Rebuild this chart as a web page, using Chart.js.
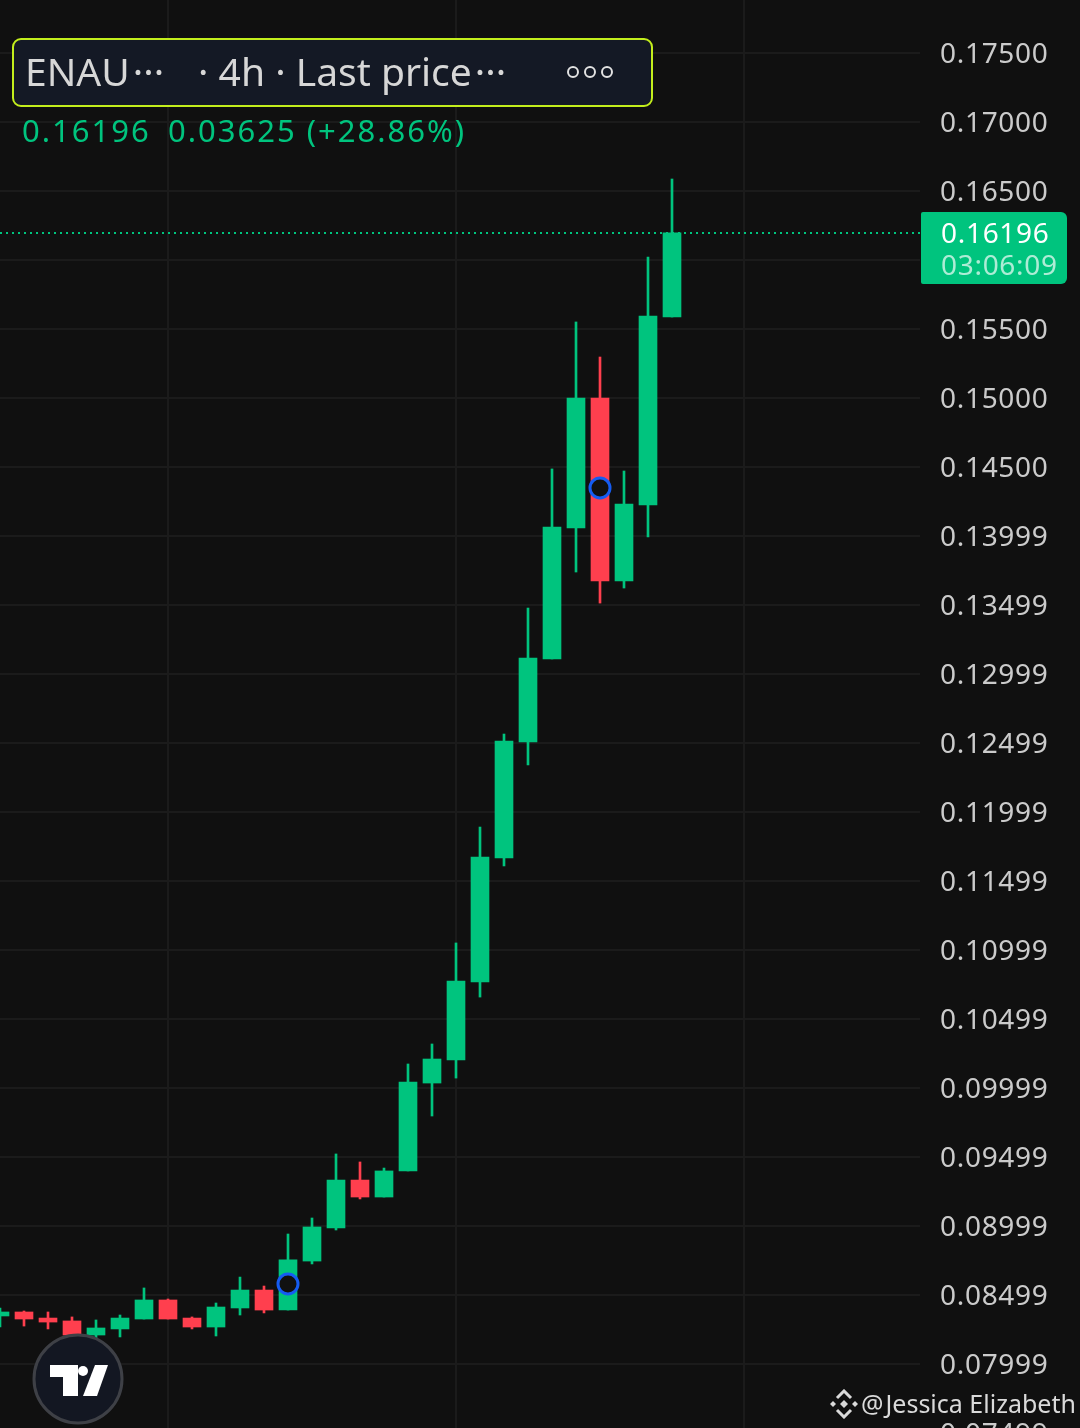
<!DOCTYPE html>
<html lang="en">
<head>
  <meta charset="UTF-8" />
  <title>ENAU - 4h - Last price</title>
  <script src="https://cdn.jsdelivr.net/npm/chart.js"></script>
  <style>
    html, body {
      margin: 0;
      padding: 0;
      width: 1080px;
      height: 1428px;
      overflow: hidden;
      background: #101010;
      font-family: "Noto Sans", sans-serif;
    }
    #grafico {
      position: absolute;
      left: 0;
      top: 0;
    }
    .capa {
      position: absolute;
      z-index: 2;
      white-space: nowrap;
    }
    .cabecera {
      left: 12px;
      top: 38px;
      width: 641px;
      height: 69px;
      box-sizing: border-box;
      border: 2px solid #c3ee1c;
      border-radius: 9px;
      background: #141925;
    }
    .titulo {
      top: 36px;
      height: 69px;
      line-height: 69px;
      font-size: 39px;
      color: #d7d7d7;
    }
    .puntos {
      letter-spacing: 0px;
      margin-left: 3px;
    }
    .anillo {
      top: 66px;
      width: 8px;
      height: 8px;
      border: 2.5px solid #e2e2e2;
      border-radius: 50%;
    }
    .cambio {
      top: 108px;
      height: 44px;
      line-height: 44px;
      font-size: 31px;
      letter-spacing: 2px;
      color: #00c47e;
    }
    .firma {
      left: 861px;
      top: 1386px;
      height: 34px;
      line-height: 34px;
      font-size: 25px;
      color: #dadada;
    }
  </style>
</head>
<body>
  <canvas id="grafico" width="1080" height="1480"></canvas>

  <div class="capa cabecera"></div>
  <div class="capa titulo" style="left:25px">ENAU<span class="puntos">···</span></div>
  <div class="capa titulo" style="left:198px">· 4h · Last price<span class="puntos">···</span></div>
  <div class="capa anillo" style="left:567px"></div>
  <div class="capa anillo" style="left:584px"></div>
  <div class="capa anillo" style="left:601px"></div>

  <div class="capa cambio" style="left:22px">0.16196</div>
  <div class="capa cambio" style="left:168px">0.03625 (+28.86%)</div>

  <svg class="capa" style="left:30px;top:1332px" width="96" height="96" viewBox="0 0 96 96">
    <circle cx="48" cy="47" r="44" fill="#131722" stroke="#3e4046" stroke-width="3" />
    <path d="M20 33 H48 V64 H33 V45 H20 Z" fill="#ffffff" />
    <circle cx="53" cy="39" r="5" fill="#ffffff" />
    <path d="M65 33 H78 L67 64 H53 Z" fill="#ffffff" />
  </svg>

  <svg class="capa" style="left:829px;top:1389px" width="30" height="30" viewBox="0 0 30 30">
    <g fill="#dadada" stroke="#dadada">
      <path d="M8 9 L15 2 L22 9" fill="none" stroke-width="3" />
      <path d="M8 21 L15 28 L22 21" fill="none" stroke-width="3" />
      <path d="M15 11 L19 15 L15 19 L11 15 Z" stroke="none" />
      <path d="M4 12 L7 15 L4 18 L1 15 Z" stroke="none" />
      <path d="M26 12 L29 15 L26 18 L23 15 Z" stroke="none" />
    </g>
  </svg>
  <div class="capa firma">@<span style="margin-left:2px">Jessica Elizabeth</span></div>

  <script>
    // velas de 4h, de izquierda a derecha
    const apertura = [0.08348, 0.08377, 0.08333, 0.08312, 0.08210, 0.08254, 0.08326, 0.08464, 0.08333, 0.08268,
      0.08406, 0.08536, 0.08391, 0.08746, 0.08986, 0.09333, 0.09210, 0.09399, 0.10036, 0.10203,
      0.10768, 0.11667, 0.12507, 0.13109, 0.14058, 0.15000, 0.13674, 0.14225, 0.15587];
    const maximo = [0.08406, 0.08384, 0.08377, 0.08341, 0.08319, 0.08355, 0.08551, 0.08471, 0.08341, 0.08442,
      0.08630, 0.08565, 0.08942, 0.09058, 0.09522, 0.09464, 0.09420, 0.10174, 0.10319, 0.11051,
      0.11891, 0.12565, 0.13478, 0.14486, 0.15551, 0.15297, 0.14471, 0.16022, 0.16587];
    const minimo = [0.08268, 0.08275, 0.08254, 0.08159, 0.08174, 0.08196, 0.08326, 0.08326, 0.08254, 0.08203,
      0.08355, 0.08370, 0.08391, 0.08725, 0.08971, 0.09196, 0.09210, 0.09399, 0.09797, 0.10072,
      0.10659, 0.11609, 0.12341, 0.13109, 0.13739, 0.13514, 0.13623, 0.13993, 0.15587];
    const cierre = [0.08377, 0.08326, 0.08304, 0.08210, 0.08261, 0.08333, 0.08464, 0.08326, 0.08268, 0.08413,
      0.08536, 0.08391, 0.08754, 0.08993, 0.09333, 0.09210, 0.09399, 0.10043, 0.10210, 0.10775,
      0.11674, 0.12514, 0.13116, 0.14065, 0.15000, 0.13674, 0.14232, 0.15594, 0.16196];

    // circulos azules (vela, precio)
    const marcasVela = [12, 25];
    const marcasPrecio = [0.08580, 0.14348];

    const ultimoPrecio = 0.16196;
    const cuentaAtras = '03:06:09';

    // eje de precios (de abajo arriba)
    const valoresEje = [0.075, 0.08, 0.085, 0.09, 0.095, 0.10, 0.105, 0.11, 0.115, 0.12, 0.125,
      0.13, 0.135, 0.14, 0.145, 0.15, 0.155, 0.16, 0.165, 0.17, 0.175];
    const etiquetasEje = ['0.07499', '0.07999', '0.08499', '0.08999', '0.09499', '0.09999', '0.10499',
      '0.10999', '0.11499', '0.11999', '0.12499', '0.12999', '0.13499', '0.13999', '0.14500',
      '0.15000', '0.15500', '0.16000', '0.16500', '0.17000', '0.17500'];
    const lineasVerticales = [7, 19, 31];

    const verde = '#00c47e';
    const rojo = '#ff3f4e';
    const rejilla = '#1b1b1b';

    const indices = apertura.map((_, i) => i);
    const colores = indices.map(i => cierre[i] >= apertura[i] ? verde : rojo);

    // 13800 px por unidad de precio, 0.175 a 53 px del borde superior
    const alto = 1480;
    const yMax = 0.175 + 53 / 13800;
    const yMin = 0.175 - (alto - 53) / 13800;

    const marcaPrecio = {
      id: 'marcaPrecio',
      beforeDraw(chart) {
        chart.ctx.letterSpacing = '0.7px';
      },
      beforeDatasetsDraw(chart) {
        const { ctx, chartArea, scales } = chart;
        const y = Math.round(scales.y.getPixelForValue(ultimoPrecio));
        ctx.save();
        ctx.strokeStyle = verde;
        ctx.lineWidth = 2;
        ctx.setLineDash([2, 4]);
        ctx.beginPath();
        ctx.moveTo(chartArea.left, y);
        ctx.lineTo(chartArea.right, y);
        ctx.stroke();
        ctx.restore();
      },
      afterDraw(chart) {
        const { ctx, chartArea, scales } = chart;
        const y = scales.y.getPixelForValue(ultimoPrecio);
        const x = chartArea.right + 1;
        ctx.save();
        ctx.fillStyle = verde;
        ctx.beginPath();
        ctx.roundRect(x, y - 21, 146, 72, [2, 6, 6, 2]);
        ctx.fill();
        ctx.font = '28px "Noto Sans"';
        ctx.textBaseline = 'middle';
        ctx.fillStyle = '#ffffff';
        ctx.fillText(ultimoPrecio.toFixed(5), x + 20, y + 2);
        ctx.fillStyle = 'rgba(255,255,255,0.68)';
        ctx.fillText(cuentaAtras, x + 20, y + 34);
        ctx.restore();
      }
    };

    const ctx = document.getElementById('grafico').getContext('2d');
    new Chart(ctx, {
      type: 'bar',
      data: {
        datasets: [
          {
            type: 'scatter',
            label: 'Marcas',
            data: marcasVela.map((v, i) => ({ x: v, y: marcasPrecio[i] })),
            pointRadius: 10,
            pointBorderWidth: 3,
            pointBorderColor: '#155cf2',
            pointBackgroundColor: '#111111',
            order: 0
          },
          {
            label: 'Cuerpo',
            data: indices.map(i => ({ x: i, y: [apertura[i], cierre[i]] })),
            backgroundColor: colores,
            barThickness: 18,
            grouped: false,
            order: 1
          },
          {
            label: 'Mecha',
            data: indices.map(i => ({ x: i, y: [minimo[i], maximo[i]] })),
            backgroundColor: colores,
            barThickness: 2,
            grouped: false,
            order: 2
          }
        ]
      },
      options: {
        responsive: false,
        animation: false,
        layout: { padding: 0, autoPadding: false },
        plugins: {
          legend: { display: false },
          tooltip: { enabled: false }
        },
        scales: {
          x: {
            type: 'linear',
            min: 0,
            max: 920 / 24,
            offset: false,
            grid: { color: rejilla, lineWidth: 2, drawTicks: false, offset: false },
            border: { display: false },
            ticks: { display: false },
            afterBuildTicks: eje => { eje.ticks = lineasVerticales.map(v => ({ value: v })); },
            afterFit: eje => { eje.height = 0; }
          },
          y: {
            type: 'linear',
            position: 'right',
            min: yMin,
            max: yMax,
            grid: { color: rejilla, lineWidth: 2, drawTicks: false },
            border: { display: false },
            ticks: {
              autoSkip: false,
              padding: 20,
              labelOffset: 2,
              color: '#cbcbcb',
              font: { family: '"Noto Sans", sans-serif', size: 28 },
              callback: (v, i) => etiquetasEje[i]
            },
            afterBuildTicks: eje => { eje.ticks = valoresEje.map(v => ({ value: v })); },
            afterFit: eje => {
              eje.width = 160;
              eje.paddingTop = 0;
              eje.paddingBottom = 0;
            }
          }
        }
      },
      plugins: [marcaPrecio]
    });
  </script>
</body>
</html>
